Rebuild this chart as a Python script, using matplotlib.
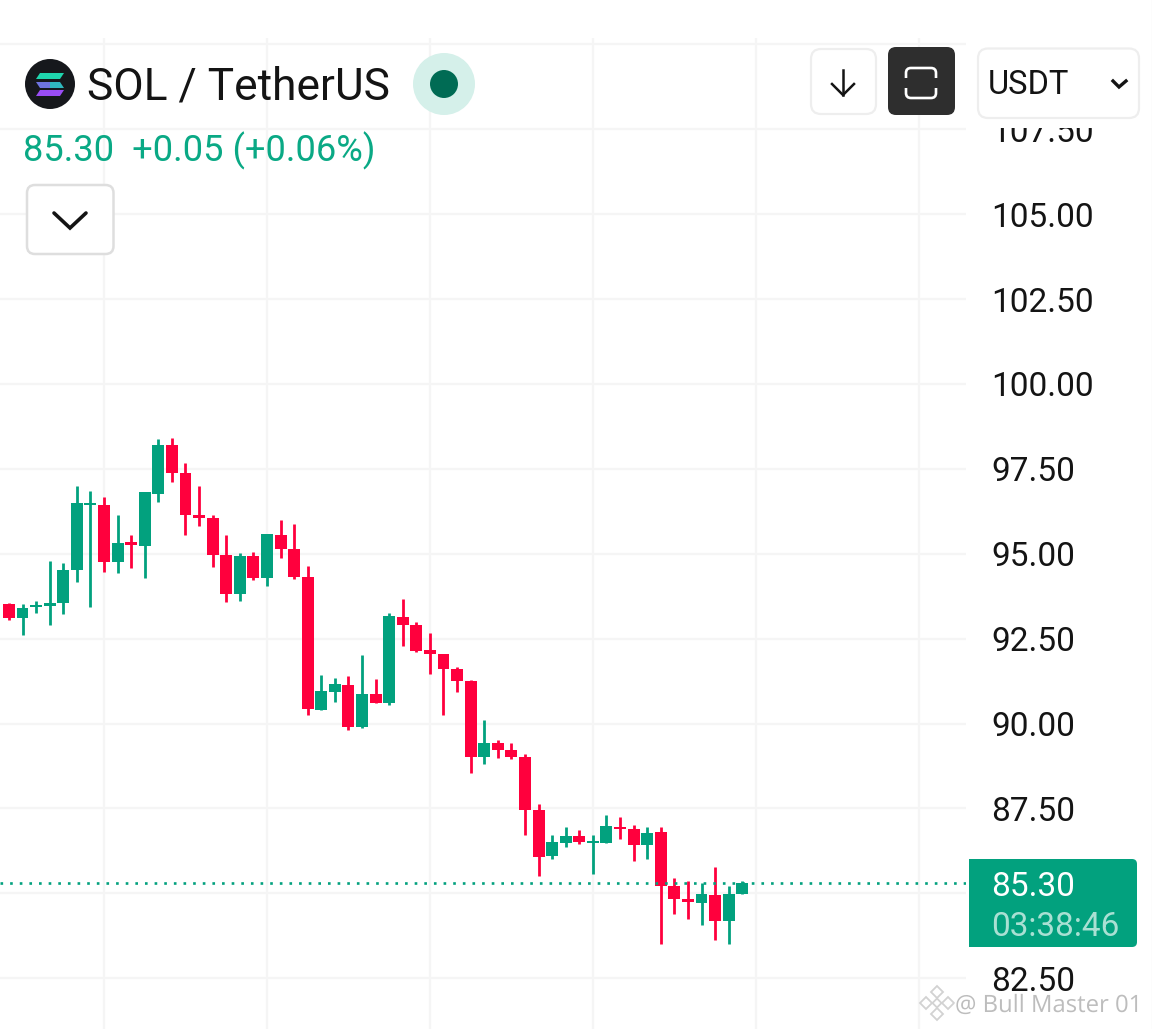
import numpy as np
import matplotlib
matplotlib.use("Agg")
import matplotlib.pyplot as plt
from matplotlib.patches import Circle, FancyBboxPatch, Rectangle, Polygon, PathPatch
from matplotlib.path import Path
import matplotlib.patheffects as pe

plt.rcParams['font.family'] = ['Roboto', 'DejaVu Sans']

# ---------- data ----------
opens = [93.51, 93.10, 93.42, 93.45, 93.55, 94.51, 96.43, 96.45, 94.75, 95.34, 95.24,
         96.77, 98.19, 97.37, 96.14, 96.05, 94.96, 93.83, 94.93, 94.28, 95.55, 95.13,
         94.32, 90.40, 90.93, 91.15, 89.91, 90.86, 90.62, 93.15, 92.89, 92.17, 92.05,
         91.60, 91.26, 89.02, 89.42, 89.22, 89.03, 87.46, 86.09, 86.48, 86.68, 86.49,
         86.49, 86.96, 86.89, 86.43, 86.80, 85.23, 84.84, 84.73, 84.95, 84.19, 84.97]
highs = [93.56, 93.51, 93.62, 94.80, 94.72, 97.00, 96.86, 96.66, 96.14, 95.55, 96.81,
         98.38, 98.41, 97.68, 97.00, 96.14, 95.55, 95.01, 95.04, 95.59, 95.99, 95.89,
         94.64, 91.42, 91.35, 91.41, 92.03, 91.30, 93.25, 93.68, 92.98, 92.66, 92.05,
         91.66, 91.28, 90.10, 89.51, 89.44, 89.10, 87.62, 86.71, 86.96, 86.87, 86.71,
         87.30, 87.24, 87.01, 86.95, 86.96, 85.45, 85.36, 85.32, 85.79, 85.22, 85.36]
lows = [93.05, 92.61, 93.25, 92.90, 93.22, 94.18, 93.42, 94.46, 94.43, 94.58, 94.30,
        96.52, 97.11, 95.55, 95.83, 94.61, 93.57, 93.61, 94.22, 94.06, 94.89, 94.26,
        90.26, 90.40, 90.64, 89.82, 89.87, 90.60, 90.55, 92.29, 92.10, 91.46, 90.26,
        90.93, 88.55, 88.81, 89.00, 88.95, 86.72, 85.51, 86.00, 86.38, 86.45, 85.57,
        86.47, 86.59, 85.95, 86.00, 83.51, 84.39, 84.26, 84.07, 83.63, 83.51, 84.97]
closes = [93.12, 93.41, 93.48, 93.55, 94.52, 96.49, 96.50, 94.75, 95.33, 95.25, 96.81,
          98.19, 97.37, 96.14, 96.05, 94.96, 93.83, 94.93, 94.28, 95.57, 95.13, 94.32,
          90.42, 90.97, 91.16, 89.91, 90.87, 90.62, 93.17, 92.89, 92.13, 92.05, 91.60,
          91.26, 89.03, 89.42, 89.22, 89.03, 87.46, 86.08, 86.50, 86.69, 86.51, 86.55,
          86.98, 86.89, 86.43, 86.77, 85.23, 84.84, 84.75, 84.97, 84.18, 84.98, 85.30]
price_ticks = [82.5, 85.0, 87.5, 90.0, 92.5, 95.0, 97.5, 100.0, 102.5, 105.0, 107.5, 110.0]
price_labels = ['82.50', '', '87.50', '90.00', '92.50', '95.00', '97.50', '100.00',
                '102.50', '105.00', '107.50', '']
time_ticks = [7, 19, 31, 43, 55, 67]
last_price = 85.30
title = 'SOL / TetherUS'
change_text = '85.30  +0.05 (+0.06%)'
quote = 'USDT'
countdown = '03:38:46'
watermark = '@ Bull Master 01'

UP = '#02A17E'
DOWN = '#FF003D'
GRID = '#F5F5F5'
INK = '#141414'

W, H = 1152, 1029
fig = plt.figure(figsize=(W / 100, H / 100), dpi=100, facecolor='white')

# ---------- chart ----------
ax = fig.add_axes([0, 0, 966 / W, (H - 38) / H])
ax.set_xlim(-0.658, 70.476)
ax.set_ylim(81.007, 110.188)
ax.set_axisbelow(True)
ax.yaxis.tick_right()
ax.set_yticks(price_ticks)
ax.set_yticklabels(price_labels, fontsize=24, color=INK, ha='left')
ax.set_xticks(time_ticks)
ax.set_xticklabels([])
ax.tick_params(axis='both', length=0)
ax.tick_params(axis='y', pad=18.3)
ax.grid(True, color=GRID, linewidth=1.6)
for s in ax.spines.values():
    s.set_visible(False)

idx = np.arange(len(opens))
o, h, l, c = map(np.array, (opens, highs, lows, closes))
colors = [UP if cc >= oo else DOWN for oo, cc in zip(o, c)]
ax.vlines(idx, l, h, colors=colors, linewidth=2.0, zorder=3)
ax.bar(idx, np.abs(c - o), bottom=np.minimum(o, c), width=0.88, color=colors,
       linewidth=0, zorder=3)
ax.plot([-0.658, 70.476], [last_price, last_price], color=UP, linewidth=1.9,
        linestyle=(0, (1, 2.65)), dash_capstyle='butt', zorder=4)

# ---------- interface overlay, in pixels ----------
ui = fig.add_axes([0, 0, 1, 1], facecolor='none')
ui.set_xlim(0, W)
ui.set_ylim(H, 0)
ui.axis('off')

ui.add_patch(Rectangle((966, 0), W - 966, 128, fc='white', ec='none'))
ui.add_patch(Rectangle((0, 0), W, 37, fc='white', ec='none'))
ui.plot([1151.5, 1151.5], [0, H], color='#F0F0F0', lw=1)


def box(x0, y0, x1, y1, fc='white', ec='#EEEEEE', r=10, lw=1.6):
    ui.add_patch(FancyBboxPatch((x0, y0), x1 - x0, y1 - y0,
                                boxstyle=f'round,pad=0,rounding_size={r}',
                                fc=fc, ec=ec, lw=lw))


# coin logo
ui.add_patch(Circle((50, 84), 25, fc='#16181C', ec='none'))
ui.add_patch(Polygon([(40, 73), (64, 73), (60, 79), (36, 79)], fc='#1FD6AE', ec='none'))
ui.add_patch(Polygon([(36, 82), (50, 82), (50, 88), (40, 88)], fc='#6E74E0', ec='none'))
ui.add_patch(Polygon([(50, 82), (60, 82), (64, 88), (50, 88)], fc='#2FB8BE', ec='none'))
ui.add_patch(Polygon([(40, 90), (64, 90), (60, 96), (36, 96)], fc='#9A4DF5', ec='none'))

ui.text(87, 82.5, title, fontsize=31.9, color=INK, va='center_baseline', ha='left')
ui.add_patch(Circle((444, 84), 31, fc='#D5F0EA', ec='none'))
ui.add_patch(Circle((444, 84), 14, fc='#006B54', ec='none'))
ui.text(23, 146.5, change_text, fontsize=26.1, color='#0AA985', va='center_baseline', ha='left')

# collapse button
box(27, 185, 113.5, 254, ec='#DEDEDE', r=8, lw=1.8)
ui.plot([54, 70, 86], [213, 228, 213], color=INK, lw=2.6, solid_capstyle='round',
        solid_joinstyle='miter')

# down button
box(811, 49, 876, 114)
ui.plot([843, 843], [70, 95], color=INK, lw=1.8)
ui.plot([832, 843, 854], [84, 95, 84], color=INK, lw=1.8, solid_joinstyle='miter')

# fullscreen button
box(888, 47, 955, 115, fc='#2E2E2E', ec='none', r=8, lw=0)
for a, b, cc in [(78, 68, 73), (88, 98, 93)]:
    verts = [(906, a), (906, cc), (906, b), (911, b), (931, b), (936, b), (936, cc), (936, a)]
    codes = [Path.MOVETO, Path.LINETO, Path.CURVE3, Path.CURVE3, Path.LINETO,
             Path.CURVE3, Path.CURVE3, Path.LINETO]
    ui.add_patch(PathPatch(Path(verts, codes), fc='none', ec='white', lw=1.9))

# quote selector
box(978, 48.5, 1139, 118)
ui.text(988, 81, quote, fontsize=23.5, color=INK, va='center_baseline', ha='left')
ui.plot([1113, 1119, 1126], [81, 87, 81], color=INK, lw=2.4, solid_joinstyle='miter')

# last-price tag
tag = FancyBboxPatch((969, 859), 168, 88, boxstyle='round,pad=0,rounding_size=5',
                     fc=UP, ec='none')
ui.add_patch(tag)
ui.add_patch(Rectangle((969, 859), 20, 88, fc=UP, ec='none'))
ui.text(991.5, 884, f'{last_price:.2f}', fontsize=24, color='white',
        va='center_baseline', ha='left')
ui.text(991.5, 924, countdown, fontsize=24, color='#A9E0D3', va='center_baseline', ha='left')

# watermark
halo = [pe.withStroke(linewidth=2.5, foreground='white')]
for cx, cy, r in [(937, 992, 6), (926, 1003, 6), (948, 1003, 6), (937, 1014, 6), (937, 1003, 4.5)]:
    ui.add_patch(Polygon([(cx - r, cy), (cx, cy - r), (cx + r, cy), (cx, cy + r)],
                         fc='white', ec='#D2D2D2', lw=1.3))
ui.text(955, 1003, watermark, fontsize=17.2, color='#BDBDBD', family='Open Sans',
        va='center_baseline', ha='left', path_effects=halo)

fig.savefig('out.png', dpi=100, facecolor='white')
